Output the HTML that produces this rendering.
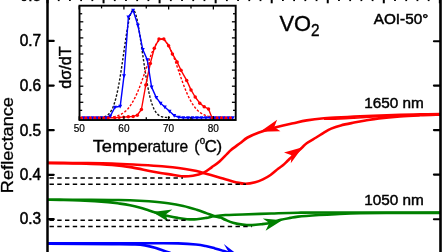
<!DOCTYPE html>
<html><head><meta charset="utf-8"><title>VO2 reflectance</title>
<style>html,body{margin:0;padding:0;background:#fff;overflow:hidden}svg{display:block}</style></head>
<body><svg width="448" height="252" viewBox="0 0 448 252">
<rect width="448" height="252" fill="#fff"/>
<line x1="47.5" y1="-4.1" x2="440.5" y2="-4.1" stroke="#000" stroke-width="2"/>
<line x1="48.0" y1="40.9" x2="53.7" y2="40.9" stroke="#000" stroke-width="2.2" stroke-linecap="round"/>
<line x1="440.0" y1="41.3" x2="433.9" y2="41.3" stroke="#000" stroke-width="2.1" stroke-linecap="round"/>
<line x1="48.0" y1="85.6" x2="53.7" y2="85.6" stroke="#000" stroke-width="2.2" stroke-linecap="round"/>
<line x1="440.0" y1="85.6" x2="433.9" y2="85.6" stroke="#000" stroke-width="2.1" stroke-linecap="round"/>
<line x1="48.0" y1="130.2" x2="53.7" y2="130.2" stroke="#000" stroke-width="2.2" stroke-linecap="round"/>
<line x1="440.0" y1="130.1" x2="433.9" y2="130.1" stroke="#000" stroke-width="2.1" stroke-linecap="round"/>
<line x1="48.0" y1="174.8" x2="53.7" y2="174.8" stroke="#000" stroke-width="2.2" stroke-linecap="round"/>
<line x1="440.0" y1="174.6" x2="433.9" y2="174.6" stroke="#000" stroke-width="2.1" stroke-linecap="round"/>
<line x1="48.0" y1="219.2" x2="53.7" y2="219.2" stroke="#000" stroke-width="2.2" stroke-linecap="round"/>
<line x1="440.0" y1="219.2" x2="433.9" y2="219.2" stroke="#000" stroke-width="2.1" stroke-linecap="round"/>
<line x1="47.50" y1="-4.1" x2="47.50" y2="3.3" stroke="#000" stroke-width="2"/>
<line x1="58.71" y1="-4.1" x2="58.71" y2="1.1" stroke="#000" stroke-width="1.8"/>
<line x1="69.92" y1="-4.1" x2="69.92" y2="1.1" stroke="#000" stroke-width="1.8"/>
<line x1="81.13" y1="-4.1" x2="81.13" y2="1.1" stroke="#000" stroke-width="1.8"/>
<line x1="92.34" y1="-4.1" x2="92.34" y2="1.1" stroke="#000" stroke-width="1.8"/>
<line x1="103.55" y1="-4.1" x2="103.55" y2="3.3" stroke="#000" stroke-width="2"/>
<line x1="114.76" y1="-4.1" x2="114.76" y2="1.1" stroke="#000" stroke-width="1.8"/>
<line x1="125.97" y1="-4.1" x2="125.97" y2="1.1" stroke="#000" stroke-width="1.8"/>
<line x1="137.18" y1="-4.1" x2="137.18" y2="1.1" stroke="#000" stroke-width="1.8"/>
<line x1="148.39" y1="-4.1" x2="148.39" y2="1.1" stroke="#000" stroke-width="1.8"/>
<line x1="159.60" y1="-4.1" x2="159.60" y2="3.3" stroke="#000" stroke-width="2"/>
<line x1="170.81" y1="-4.1" x2="170.81" y2="1.1" stroke="#000" stroke-width="1.8"/>
<line x1="182.02" y1="-4.1" x2="182.02" y2="1.1" stroke="#000" stroke-width="1.8"/>
<line x1="193.23" y1="-4.1" x2="193.23" y2="1.1" stroke="#000" stroke-width="1.8"/>
<line x1="204.44" y1="-4.1" x2="204.44" y2="1.1" stroke="#000" stroke-width="1.8"/>
<line x1="215.65" y1="-4.1" x2="215.65" y2="3.3" stroke="#000" stroke-width="2"/>
<line x1="226.86" y1="-4.1" x2="226.86" y2="1.1" stroke="#000" stroke-width="1.8"/>
<line x1="238.07" y1="-4.1" x2="238.07" y2="1.1" stroke="#000" stroke-width="1.8"/>
<line x1="249.28" y1="-4.1" x2="249.28" y2="1.1" stroke="#000" stroke-width="1.8"/>
<line x1="260.49" y1="-4.1" x2="260.49" y2="1.1" stroke="#000" stroke-width="1.8"/>
<line x1="271.70" y1="-4.1" x2="271.70" y2="3.3" stroke="#000" stroke-width="2"/>
<line x1="282.91" y1="-4.1" x2="282.91" y2="1.1" stroke="#000" stroke-width="1.8"/>
<line x1="294.12" y1="-4.1" x2="294.12" y2="1.1" stroke="#000" stroke-width="1.8"/>
<line x1="305.33" y1="-4.1" x2="305.33" y2="1.1" stroke="#000" stroke-width="1.8"/>
<line x1="316.54" y1="-4.1" x2="316.54" y2="1.1" stroke="#000" stroke-width="1.8"/>
<line x1="327.75" y1="-4.1" x2="327.75" y2="3.3" stroke="#000" stroke-width="2"/>
<line x1="338.96" y1="-4.1" x2="338.96" y2="1.1" stroke="#000" stroke-width="1.8"/>
<line x1="350.17" y1="-4.1" x2="350.17" y2="1.1" stroke="#000" stroke-width="1.8"/>
<line x1="361.38" y1="-4.1" x2="361.38" y2="1.1" stroke="#000" stroke-width="1.8"/>
<line x1="372.59" y1="-4.1" x2="372.59" y2="1.1" stroke="#000" stroke-width="1.8"/>
<line x1="383.80" y1="-4.1" x2="383.80" y2="3.3" stroke="#000" stroke-width="2"/>
<line x1="395.01" y1="-4.1" x2="395.01" y2="1.1" stroke="#000" stroke-width="1.8"/>
<line x1="406.22" y1="-4.1" x2="406.22" y2="1.1" stroke="#000" stroke-width="1.8"/>
<line x1="417.43" y1="-4.1" x2="417.43" y2="1.1" stroke="#000" stroke-width="1.8"/>
<line x1="428.64" y1="-4.1" x2="428.64" y2="1.1" stroke="#000" stroke-width="1.8"/>
<line x1="439.85" y1="-4.1" x2="439.85" y2="3.3" stroke="#000" stroke-width="2"/>
<text transform="translate(41.2,1.2) scale(0.985,1)" font-family="Liberation Sans, Arial, Helvetica, sans-serif" font-size="15.7" text-anchor="end" fill="#000" stroke="#000" stroke-width="0.5" >0.8</text>
<text transform="translate(41.2,45.8) scale(0.985,1)" font-family="Liberation Sans, Arial, Helvetica, sans-serif" font-size="15.7" text-anchor="end" fill="#000" stroke="#000" stroke-width="0.5" >0.7</text>
<text transform="translate(41.2,90.6) scale(0.985,1)" font-family="Liberation Sans, Arial, Helvetica, sans-serif" font-size="15.7" text-anchor="end" fill="#000" stroke="#000" stroke-width="0.5" >0.6</text>
<text transform="translate(41.2,135.7) scale(0.985,1)" font-family="Liberation Sans, Arial, Helvetica, sans-serif" font-size="15.7" text-anchor="end" fill="#000" stroke="#000" stroke-width="0.5" >0.5</text>
<text transform="translate(41.2,179.6) scale(0.985,1)" font-family="Liberation Sans, Arial, Helvetica, sans-serif" font-size="15.7" text-anchor="end" fill="#000" stroke="#000" stroke-width="0.5" >0.4</text>
<text transform="translate(41.2,224.2) scale(0.985,1)" font-family="Liberation Sans, Arial, Helvetica, sans-serif" font-size="15.7" text-anchor="end" fill="#000" stroke="#000" stroke-width="0.5" >0.3</text>
<text transform="translate(13.3,145.1) rotate(-90)" font-family="Liberation Sans, Arial, Helvetica, sans-serif" font-size="16.2" text-anchor="middle" fill="#000" stroke="#000" stroke-width="0.3" textLength="96.2" lengthAdjust="spacingAndGlyphs">Reflectance</text>
<path d="M48.00,162.90 C53.33,162.93 69.33,163.00 80.00,163.10 C90.67,163.20 102.50,163.23 112.00,163.50 C121.50,163.77 128.67,164.23 137.00,164.70 C145.33,165.17 153.97,165.58 162.00,166.30 C170.03,167.02 179.42,168.22 185.20,169.00 C190.98,169.78 193.68,170.35 196.70,171.00 C199.72,171.65 199.82,171.92 203.30,172.90 C206.78,173.88 213.63,175.75 217.60,176.90 C221.57,178.05 223.92,178.87 227.10,179.80 C230.28,180.73 233.60,181.83 236.70,182.50 C239.80,183.17 242.62,183.83 245.70,183.80 C248.78,183.77 252.33,183.03 255.20,182.30 C258.07,181.57 260.35,180.62 262.90,179.40 C265.45,178.18 267.97,176.77 270.50,175.00 C273.03,173.23 276.03,170.42 278.10,168.80 C280.17,167.18 281.32,166.63 282.90,165.30 C284.48,163.97 285.92,162.42 287.60,160.80 C289.28,159.18 290.62,157.77 293.00,155.60 C295.38,153.43 299.62,149.87 301.90,147.80 C304.18,145.73 304.32,144.92 306.70,143.20 C309.08,141.48 313.38,139.23 316.20,137.50 C319.02,135.77 321.10,134.28 323.60,132.80 C326.10,131.32 328.33,129.83 331.20,128.60 C334.07,127.37 336.98,126.40 340.80,125.40 C344.62,124.40 349.98,123.42 354.10,122.60 C358.22,121.78 361.37,121.20 365.50,120.50 C369.63,119.80 373.15,119.08 378.90,118.40 C384.65,117.72 393.15,116.92 400.00,116.40 C406.85,115.88 413.28,115.60 420.00,115.30 C426.72,115.00 436.92,114.72 440.30,114.60" fill="none" stroke="#ff0000" stroke-width="2.6" stroke-linejoin="round"/>
<path d="M440.30,114.00 C436.92,114.07 426.72,114.25 420.00,114.40 C413.28,114.55 407.82,114.67 400.00,114.90 C392.18,115.13 380.75,115.52 373.10,115.80 C365.45,116.08 360.45,116.30 354.10,116.60 C347.75,116.90 340.02,117.33 335.00,117.60 C329.98,117.87 328.72,117.73 324.00,118.20 C319.28,118.67 311.82,119.57 306.70,120.40 C301.58,121.23 298.08,122.15 293.30,123.20 C288.52,124.25 283.72,125.17 278.00,126.70 C272.28,128.23 264.07,130.60 259.00,132.40 C253.93,134.20 250.77,135.70 247.60,137.50 C244.43,139.30 242.77,141.12 240.00,143.20 C237.23,145.28 233.15,148.23 231.00,150.00 C228.85,151.77 229.02,151.90 227.10,153.80 C225.18,155.70 222.03,159.18 219.50,161.40 C216.97,163.62 214.60,165.18 211.90,167.10 C209.20,169.02 206.47,171.47 203.30,172.90 C200.13,174.33 196.55,175.13 192.90,175.70 C189.25,176.27 185.22,176.52 181.40,176.30 C177.58,176.08 173.23,174.90 170.00,174.40 C166.77,173.90 165.42,173.87 162.00,173.30 C158.58,172.73 154.50,171.98 149.50,171.00 C144.50,170.02 138.25,168.40 132.00,167.40 C125.75,166.40 120.67,165.65 112.00,165.00 C103.33,164.35 88.67,163.82 80.00,163.50 C71.33,163.18 65.33,163.18 60.00,163.10 C54.67,163.02 50.00,163.02 48.00,163.00" fill="none" stroke="#ff0000" stroke-width="2.6" stroke-linejoin="round"/>
<path d="M395.00,115.60 C391.33,115.83 379.83,116.57 373.00,117.00 C366.17,117.43 359.50,117.88 354.00,118.20 C348.50,118.52 345.00,118.73 340.00,118.90 C335.00,119.07 326.67,119.15 324.00,119.20" fill="none" stroke="#ff0000" stroke-width="1.6" stroke-linejoin="round"/>
<path d="M260.00,131.80 L277.10,119.80 L274.30,127.00 L280.40,131.20Z" fill="#ff0000"/>
<path d="M302.60,147.20 L284.00,152.60 L291.60,155.20 L290.80,163.20Z" fill="#ff0000"/>
<path d="M48.00,199.70 C53.33,199.72 69.33,199.75 80.00,199.80 C90.67,199.85 103.67,199.93 112.00,200.00 C120.33,200.07 123.83,199.98 130.00,200.20 C136.17,200.42 142.65,200.80 149.00,201.30 C155.35,201.80 162.38,202.43 168.10,203.20 C173.82,203.97 178.53,204.82 183.30,205.90 C188.07,206.98 192.88,208.50 196.70,209.70 C200.52,210.90 203.32,212.05 206.20,213.10 C209.08,214.15 211.58,215.25 214.00,216.00 C216.42,216.75 218.80,216.97 220.70,217.60 C222.60,218.23 223.35,218.95 225.40,219.80 C227.45,220.65 230.13,221.90 233.00,222.70 C235.87,223.50 239.42,224.20 242.60,224.60 C245.78,225.00 248.93,225.17 252.10,225.10 C255.27,225.03 258.43,224.60 261.60,224.20 C264.77,223.80 267.92,223.43 271.10,222.70 C274.28,221.97 277.52,220.60 280.70,219.80 C283.88,219.00 287.32,218.43 290.20,217.90 C293.08,217.37 293.20,217.08 298.00,216.60 C302.80,216.12 312.67,215.42 319.00,215.00 C325.33,214.58 329.17,214.38 336.00,214.10 C342.83,213.82 349.33,213.48 360.00,213.30 C370.67,213.12 386.62,213.07 400.00,213.00 C413.38,212.93 433.58,212.92 440.30,212.90" fill="none" stroke="#008000" stroke-width="2.6" stroke-linejoin="round"/>
<path d="M440.30,212.50 C433.58,212.50 417.38,212.50 400.00,212.50 C382.62,212.50 353.00,212.47 336.00,212.50 C319.00,212.53 308.82,212.53 298.00,212.70 C287.18,212.87 280.33,213.20 271.10,213.50 C261.87,213.80 250.22,214.25 242.60,214.50 C234.98,214.75 230.17,214.70 225.40,215.00 C220.63,215.30 217.20,215.82 214.00,216.30 C210.80,216.78 209.08,217.42 206.20,217.90 C203.32,218.38 199.88,218.98 196.70,219.20 C193.52,219.42 190.28,219.42 187.10,219.20 C183.92,218.98 180.77,218.43 177.60,217.90 C174.43,217.37 171.27,216.73 168.10,216.00 C164.93,215.27 161.78,214.42 158.60,213.50 C155.42,212.58 152.18,211.48 149.00,210.50 C145.82,209.52 142.67,208.47 139.50,207.60 C136.33,206.73 133.25,205.97 130.00,205.30 C126.75,204.63 123.67,204.13 120.00,203.60 C116.33,203.07 114.67,202.63 108.00,202.10 C101.33,201.57 88.00,200.77 80.00,200.40 C72.00,200.03 65.33,200.00 60.00,199.90 C54.67,199.80 50.00,199.82 48.00,199.80" fill="none" stroke="#008000" stroke-width="2.6" stroke-linejoin="round"/>
<path d="M152.30,212.00 L172.40,209.40 L165.40,214.70 L168.50,221.80Z" fill="#008000"/>
<path d="M282.20,220.30 L262.80,218.60 L269.30,223.00 L265.60,230.80Z" fill="#008000"/>
<path d="M48.00,243.30 C58.67,243.30 96.67,243.30 112.00,243.30 C127.33,243.30 132.00,243.32 140.00,243.30 C148.00,243.28 153.67,243.18 160.00,243.20 C166.33,243.22 172.00,243.18 178.00,243.40 C184.00,243.62 191.38,244.07 196.00,244.50 C200.62,244.93 202.53,245.35 205.70,246.00 C208.87,246.65 211.95,247.57 215.00,248.40 C218.05,249.23 221.67,250.23 224.00,251.00 C226.33,251.77 227.67,252.42 229.00,253.00 C230.33,253.58 231.50,254.25 232.00,254.50" fill="none" stroke="#0000ff" stroke-width="2.6"/>
<path d="M48.00,243.80 C58.67,243.87 97.50,244.08 112.00,244.20 C126.50,244.32 129.50,244.30 135.00,244.50 C140.50,244.70 141.67,244.85 145.00,245.40 C148.33,245.95 151.25,246.70 155.00,247.80 C158.75,248.90 164.50,250.97 167.50,252.00 C170.50,253.03 172.08,253.67 173.00,254.00" fill="none" stroke="#0000ff" stroke-width="2.6"/>
<path d="M223.80,244.10 L236.80,254.00 L222.00,258.00 L228.00,251.00Z" fill="#0000ff"/>
<text transform="translate(394.0,107.8) scale(1.01,1)" font-family="Liberation Sans, Arial, Helvetica, sans-serif" font-size="15.2" text-anchor="middle" fill="#000" stroke="#000" stroke-width="0.45" >1650 nm</text>
<text transform="translate(394.0,204.5) scale(1.01,1)" font-family="Liberation Sans, Arial, Helvetica, sans-serif" font-size="15.2" text-anchor="middle" fill="#000" stroke="#000" stroke-width="0.45" >1050 nm</text>
<text transform="translate(401,24.15)" font-family="Liberation Sans, Arial, Helvetica, sans-serif" font-size="15.3" text-anchor="middle" fill="#000" stroke="#000" stroke-width="0.5" >AOI-50°</text>
<text transform="translate(279.5,31.3) scale(0.985,1)" font-family="Liberation Sans, Arial, Helvetica, sans-serif" font-size="22.2" text-anchor="start" fill="#000" stroke="#000" stroke-width="0.35" >VO<tspan font-size="15.6" dy="4.5">2</tspan></text>
<rect x="79.5" y="5.7" width="156.2" height="114.3" fill="#fff" stroke="none"/>
<path d="M100.00,117.41 L101.00,117.32 L102.00,117.20 L103.00,117.03 L104.00,116.80 L105.00,116.48 L106.00,116.06 L107.00,115.51 L108.00,114.78 L109.00,113.86 L110.00,112.68 L111.00,111.21 L112.00,109.40 L113.00,107.20 L114.00,104.55 L115.00,101.42 L116.00,97.77 L117.00,93.58 L118.00,88.83 L119.00,83.54 L120.00,77.74 L121.00,71.49 L122.00,64.87 L123.00,57.99 L124.00,51.00 L125.00,44.03 L126.00,37.28 L127.00,30.91 L128.00,25.11 L129.00,20.06 L130.00,15.91 L131.00,12.81 L132.00,10.85 L133.00,10.11 L134.00,10.60 L135.00,12.32 L136.00,15.20 L137.00,19.15 L138.00,24.03 L139.00,29.70 L140.00,35.97 L141.00,42.66 L142.00,49.60 L143.00,56.60 L144.00,63.51 L145.00,70.19 L146.00,76.52 L147.00,82.42 L148.00,87.81 L149.00,92.67 L150.00,96.98 L151.00,100.74 L152.00,103.97 L153.00,106.71 L154.00,109.00 L155.00,110.88 L156.00,112.41 L157.00,113.64 L158.00,114.62 L159.00,115.38 L160.00,115.96 L161.00,116.41 L162.00,116.74 L163.00,116.99 L164.00,117.17 L165.00,117.30 L166.00,117.39 L167.00,117.46 L168.00,117.51 L169.00,117.54 L170.00,117.56" fill="none" stroke="#111" stroke-width="1.4" stroke-dasharray="2.4 1.7"/>
<path d="M105.00,117.43 L106.00,117.39 L107.00,117.34 L108.00,117.28 L109.00,117.20 L110.00,117.12 L111.00,117.01 L112.00,116.89 L113.00,116.74 L114.00,116.57 L115.00,116.37 L116.00,116.14 L117.00,115.86 L118.00,115.55 L119.00,115.18 L120.00,114.76 L121.00,114.28 L122.00,113.73 L123.00,113.11 L124.00,112.42 L125.00,111.63 L126.00,110.75 L127.00,109.77 L128.00,108.69 L129.00,107.49 L130.00,106.17 L131.00,104.73 L132.00,103.17 L133.00,101.47 L134.00,99.65 L135.00,97.69 L136.00,95.60 L137.00,93.39 L138.00,91.05 L139.00,88.59 L140.00,86.03 L141.00,83.37 L142.00,80.62 L143.00,77.81 L144.00,74.94 L145.00,72.03 L146.00,69.11 L147.00,66.20 L148.00,63.32 L149.00,60.49 L150.00,57.73 L151.00,55.09 L152.00,52.57 L153.00,50.20 L154.00,48.01 L155.00,46.01 L156.00,44.24 L157.00,42.71 L158.00,41.43 L159.00,40.42 L160.00,39.69 L161.00,39.25 L162.00,39.10 L163.00,39.25 L164.00,39.69 L165.00,40.42 L166.00,41.43 L167.00,42.71 L168.00,44.24 L169.00,46.01 L170.00,48.01 L171.00,50.20 L172.00,52.57 L173.00,55.09 L174.00,57.73 L175.00,60.49 L176.00,63.32 L177.00,66.20 L178.00,69.11 L179.00,72.03 L180.00,74.94 L181.00,77.81 L182.00,80.62 L183.00,83.37 L184.00,86.03 L185.00,88.59 L186.00,91.05 L187.00,93.39 L188.00,95.60 L189.00,97.69 L190.00,99.65 L191.00,101.47 L192.00,103.17 L193.00,104.73 L194.00,106.17 L195.00,107.49 L196.00,108.69 L197.00,109.77 L198.00,110.75 L199.00,111.63 L200.00,112.42 L201.00,113.11 L202.00,113.73 L203.00,114.28 L204.00,114.76 L205.00,115.18 L206.00,115.55 L207.00,115.86 L208.00,116.14 L209.00,116.37 L210.00,116.57 L211.00,116.74 L212.00,116.89 L213.00,117.01 L214.00,117.12 L215.00,117.20 L216.00,117.28 L217.00,117.34 L218.00,117.39 L219.00,117.43 L220.00,117.46 L221.00,117.49 L222.00,117.51 L223.00,117.53 L224.00,117.54 L225.00,117.56" fill="none" stroke="#ff0000" stroke-width="1.4" stroke-dasharray="2.4 1.7"/>
<path d="M81.40,117.80 L85.87,117.80 L90.34,117.80 L94.81,117.80 L99.28,117.80 L103.75,117.80 L108.22,117.80 L114.80,117.70 L119.20,117.40 L123.60,117.10 L128.30,116.80 L133.10,116.40 L137.30,115.20 L141.40,109.50 L145.80,85.00 L150.30,63.40 L154.30,48.20 L159.00,39.00 L163.80,39.00 L168.60,45.70 L172.40,53.90 L177.10,61.90 L181.00,70.30 L186.70,80.40 L191.00,89.90 L195.20,97.00 L199.80,103.20 L204.20,106.80 L208.50,108.90 L212.00,117.80 L217.00,117.70 L221.47,117.70 L225.94,117.70 L230.41,117.70" fill="none" stroke="#ff0000" stroke-width="1.4" stroke-linejoin="round"/>
<path d="M83.67,117.70 L88.14,117.70 L92.61,117.70 L97.08,117.70 L101.55,117.70 L106.02,117.70 L110.30,116.00 L115.00,107.20 L120.20,106.30 L124.00,75.80 L128.40,17.00 L133.10,10.30 L137.90,25.30 L142.80,49.60 L147.30,59.80 L151.60,87.10 L156.30,97.60 L160.60,103.20 L164.80,107.00 L169.50,111.30 L174.20,115.60 L178.80,117.30 L183.30,117.70 L188.00,117.70 L192.47,117.70 L196.94,117.70 L201.41,117.70 L205.88,117.70 L210.35,117.70 L214.82,117.70 L219.29,117.70 L223.76,117.70 L228.23,117.70 L232.70,117.70" fill="none" stroke="#0000ff" stroke-width="1.4" stroke-linejoin="round"/>
<path d="M81.67,116.20 L85.67,116.20 L83.67,119.90Z" fill="#0000ff"/>
<path d="M86.14,116.20 L90.14,116.20 L88.14,119.90Z" fill="#0000ff"/>
<path d="M90.61,116.20 L94.61,116.20 L92.61,119.90Z" fill="#0000ff"/>
<path d="M95.08,116.20 L99.08,116.20 L97.08,119.90Z" fill="#0000ff"/>
<path d="M99.55,116.20 L103.55,116.20 L101.55,119.90Z" fill="#0000ff"/>
<path d="M104.02,116.20 L108.02,116.20 L106.02,119.90Z" fill="#0000ff"/>
<path d="M108.30,114.50 L112.30,114.50 L110.30,118.20Z" fill="#0000ff"/>
<path d="M113.00,105.70 L117.00,105.70 L115.00,109.40Z" fill="#0000ff"/>
<path d="M118.20,104.80 L122.20,104.80 L120.20,108.50Z" fill="#0000ff"/>
<path d="M122.00,74.30 L126.00,74.30 L124.00,78.00Z" fill="#0000ff"/>
<path d="M126.40,15.50 L130.40,15.50 L128.40,19.20Z" fill="#0000ff"/>
<path d="M131.10,8.80 L135.10,8.80 L133.10,12.50Z" fill="#0000ff"/>
<path d="M135.90,23.80 L139.90,23.80 L137.90,27.50Z" fill="#0000ff"/>
<path d="M140.80,48.10 L144.80,48.10 L142.80,51.80Z" fill="#0000ff"/>
<path d="M145.30,58.30 L149.30,58.30 L147.30,62.00Z" fill="#0000ff"/>
<path d="M149.60,85.60 L153.60,85.60 L151.60,89.30Z" fill="#0000ff"/>
<path d="M154.30,96.10 L158.30,96.10 L156.30,99.80Z" fill="#0000ff"/>
<path d="M158.60,101.70 L162.60,101.70 L160.60,105.40Z" fill="#0000ff"/>
<path d="M162.80,105.50 L166.80,105.50 L164.80,109.20Z" fill="#0000ff"/>
<path d="M167.50,109.80 L171.50,109.80 L169.50,113.50Z" fill="#0000ff"/>
<path d="M172.20,114.10 L176.20,114.10 L174.20,117.80Z" fill="#0000ff"/>
<path d="M176.80,115.80 L180.80,115.80 L178.80,119.50Z" fill="#0000ff"/>
<path d="M181.30,116.20 L185.30,116.20 L183.30,119.90Z" fill="#0000ff"/>
<path d="M186.00,116.20 L190.00,116.20 L188.00,119.90Z" fill="#0000ff"/>
<path d="M190.47,116.20 L194.47,116.20 L192.47,119.90Z" fill="#0000ff"/>
<path d="M194.94,116.20 L198.94,116.20 L196.94,119.90Z" fill="#0000ff"/>
<path d="M199.41,116.20 L203.41,116.20 L201.41,119.90Z" fill="#0000ff"/>
<path d="M203.88,116.20 L207.88,116.20 L205.88,119.90Z" fill="#0000ff"/>
<path d="M208.35,116.20 L212.35,116.20 L210.35,119.90Z" fill="#0000ff"/>
<path d="M212.82,116.20 L216.82,116.20 L214.82,119.90Z" fill="#0000ff"/>
<path d="M217.29,116.20 L221.29,116.20 L219.29,119.90Z" fill="#0000ff"/>
<path d="M221.76,116.20 L225.76,116.20 L223.76,119.90Z" fill="#0000ff"/>
<path d="M226.23,116.20 L230.23,116.20 L228.23,119.90Z" fill="#0000ff"/>
<path d="M230.70,116.20 L234.70,116.20 L232.70,119.90Z" fill="#0000ff"/>
<circle cx="81.40" cy="117.80" r="1.5" fill="#ff0000"/>
<circle cx="85.87" cy="117.80" r="1.5" fill="#ff0000"/>
<circle cx="90.34" cy="117.80" r="1.5" fill="#ff0000"/>
<circle cx="94.81" cy="117.80" r="1.5" fill="#ff0000"/>
<circle cx="99.28" cy="117.80" r="1.5" fill="#ff0000"/>
<circle cx="103.75" cy="117.80" r="1.5" fill="#ff0000"/>
<circle cx="108.22" cy="117.80" r="1.5" fill="#ff0000"/>
<circle cx="114.80" cy="117.70" r="1.5" fill="#ff0000"/>
<circle cx="119.20" cy="117.40" r="1.5" fill="#ff0000"/>
<circle cx="123.60" cy="117.10" r="1.5" fill="#ff0000"/>
<circle cx="128.30" cy="116.80" r="1.75" fill="#ff0000"/>
<circle cx="133.10" cy="116.40" r="1.75" fill="#ff0000"/>
<circle cx="137.30" cy="115.20" r="1.75" fill="#ff0000"/>
<circle cx="141.40" cy="109.50" r="1.75" fill="#ff0000"/>
<circle cx="145.80" cy="85.00" r="1.75" fill="#ff0000"/>
<circle cx="150.30" cy="63.40" r="1.75" fill="#ff0000"/>
<circle cx="154.30" cy="48.20" r="1.75" fill="#ff0000"/>
<circle cx="159.00" cy="39.00" r="1.75" fill="#ff0000"/>
<circle cx="163.80" cy="39.00" r="1.75" fill="#ff0000"/>
<circle cx="168.60" cy="45.70" r="1.75" fill="#ff0000"/>
<circle cx="172.40" cy="53.90" r="1.75" fill="#ff0000"/>
<circle cx="177.10" cy="61.90" r="1.75" fill="#ff0000"/>
<circle cx="181.00" cy="70.30" r="1.75" fill="#ff0000"/>
<circle cx="186.70" cy="80.40" r="1.75" fill="#ff0000"/>
<circle cx="191.00" cy="89.90" r="1.75" fill="#ff0000"/>
<circle cx="195.20" cy="97.00" r="1.75" fill="#ff0000"/>
<circle cx="199.80" cy="103.20" r="1.75" fill="#ff0000"/>
<circle cx="204.20" cy="106.80" r="1.75" fill="#ff0000"/>
<circle cx="208.50" cy="108.90" r="1.75" fill="#ff0000"/>
<circle cx="212.00" cy="117.80" r="1.5" fill="#ff0000"/>
<circle cx="217.00" cy="117.70" r="1.5" fill="#ff0000"/>
<circle cx="221.47" cy="117.70" r="1.5" fill="#ff0000"/>
<circle cx="225.94" cy="117.70" r="1.5" fill="#ff0000"/>
<circle cx="230.41" cy="117.70" r="1.5" fill="#ff0000"/>
<rect x="79.5" y="5.7" width="156.2" height="114.3" fill="none" stroke="#000" stroke-width="1.9"/>
<line x1="79.5" y1="13.75" x2="82.2" y2="13.75" stroke="#000" stroke-width="1.3"/>
<line x1="235.7" y1="13.75" x2="233.0" y2="13.75" stroke="#000" stroke-width="1.3"/>
<line x1="79.5" y1="21.80" x2="83.3" y2="21.80" stroke="#000" stroke-width="1.3"/>
<line x1="235.7" y1="21.80" x2="231.89999999999998" y2="21.80" stroke="#000" stroke-width="1.3"/>
<line x1="79.5" y1="29.85" x2="82.2" y2="29.85" stroke="#000" stroke-width="1.3"/>
<line x1="235.7" y1="29.85" x2="233.0" y2="29.85" stroke="#000" stroke-width="1.3"/>
<line x1="79.5" y1="37.90" x2="83.3" y2="37.90" stroke="#000" stroke-width="1.3"/>
<line x1="235.7" y1="37.90" x2="231.89999999999998" y2="37.90" stroke="#000" stroke-width="1.3"/>
<line x1="79.5" y1="45.95" x2="82.2" y2="45.95" stroke="#000" stroke-width="1.3"/>
<line x1="235.7" y1="45.95" x2="233.0" y2="45.95" stroke="#000" stroke-width="1.3"/>
<line x1="79.5" y1="54.00" x2="83.3" y2="54.00" stroke="#000" stroke-width="1.3"/>
<line x1="235.7" y1="54.00" x2="231.89999999999998" y2="54.00" stroke="#000" stroke-width="1.3"/>
<line x1="79.5" y1="62.05" x2="82.2" y2="62.05" stroke="#000" stroke-width="1.3"/>
<line x1="235.7" y1="62.05" x2="233.0" y2="62.05" stroke="#000" stroke-width="1.3"/>
<line x1="79.5" y1="70.10" x2="83.3" y2="70.10" stroke="#000" stroke-width="1.3"/>
<line x1="235.7" y1="70.10" x2="231.89999999999998" y2="70.10" stroke="#000" stroke-width="1.3"/>
<line x1="79.5" y1="78.15" x2="82.2" y2="78.15" stroke="#000" stroke-width="1.3"/>
<line x1="235.7" y1="78.15" x2="233.0" y2="78.15" stroke="#000" stroke-width="1.3"/>
<line x1="79.5" y1="86.20" x2="83.3" y2="86.20" stroke="#000" stroke-width="1.3"/>
<line x1="235.7" y1="86.20" x2="231.89999999999998" y2="86.20" stroke="#000" stroke-width="1.3"/>
<line x1="79.5" y1="94.25" x2="82.2" y2="94.25" stroke="#000" stroke-width="1.3"/>
<line x1="235.7" y1="94.25" x2="233.0" y2="94.25" stroke="#000" stroke-width="1.3"/>
<line x1="79.5" y1="102.30" x2="83.3" y2="102.30" stroke="#000" stroke-width="1.3"/>
<line x1="235.7" y1="102.30" x2="231.89999999999998" y2="102.30" stroke="#000" stroke-width="1.3"/>
<line x1="79.5" y1="110.35" x2="82.2" y2="110.35" stroke="#000" stroke-width="1.3"/>
<line x1="235.7" y1="110.35" x2="233.0" y2="110.35" stroke="#000" stroke-width="1.3"/>
<line x1="79.20" y1="5.7" x2="79.20" y2="9.5" stroke="#000" stroke-width="1.3"/>
<line x1="79.20" y1="120" x2="79.20" y2="116.2" stroke="#000" stroke-width="1.3"/>
<line x1="101.56" y1="5.7" x2="101.56" y2="8.4" stroke="#000" stroke-width="1.3"/>
<line x1="101.56" y1="120" x2="101.56" y2="117.3" stroke="#000" stroke-width="1.3"/>
<line x1="123.92" y1="5.7" x2="123.92" y2="9.5" stroke="#000" stroke-width="1.3"/>
<line x1="123.92" y1="120" x2="123.92" y2="116.2" stroke="#000" stroke-width="1.3"/>
<line x1="146.28" y1="5.7" x2="146.28" y2="8.4" stroke="#000" stroke-width="1.3"/>
<line x1="146.28" y1="120" x2="146.28" y2="117.3" stroke="#000" stroke-width="1.3"/>
<line x1="168.64" y1="5.7" x2="168.64" y2="9.5" stroke="#000" stroke-width="1.3"/>
<line x1="168.64" y1="120" x2="168.64" y2="116.2" stroke="#000" stroke-width="1.3"/>
<line x1="191.00" y1="5.7" x2="191.00" y2="8.4" stroke="#000" stroke-width="1.3"/>
<line x1="191.00" y1="120" x2="191.00" y2="117.3" stroke="#000" stroke-width="1.3"/>
<line x1="213.36" y1="5.7" x2="213.36" y2="9.5" stroke="#000" stroke-width="1.3"/>
<line x1="213.36" y1="120" x2="213.36" y2="116.2" stroke="#000" stroke-width="1.3"/>
<text x="79.20" y="132" font-family="Liberation Sans, Arial, Helvetica, sans-serif" font-size="10" text-anchor="middle" fill="#000" stroke="#000" stroke-width="0.2">50</text>
<text x="123.92" y="132" font-family="Liberation Sans, Arial, Helvetica, sans-serif" font-size="10" text-anchor="middle" fill="#000" stroke="#000" stroke-width="0.2">60</text>
<text x="168.64" y="132" font-family="Liberation Sans, Arial, Helvetica, sans-serif" font-size="10" text-anchor="middle" fill="#000" stroke="#000" stroke-width="0.2">70</text>
<text x="213.36" y="132" font-family="Liberation Sans, Arial, Helvetica, sans-serif" font-size="10" text-anchor="middle" fill="#000" stroke="#000" stroke-width="0.2">80</text>
<text y="151.5" font-family="Liberation Sans, Arial, Helvetica, sans-serif" font-size="17.4" fill="#000" stroke="#000" stroke-width="0.35"><tspan x="92.7" textLength="55" lengthAdjust="spacingAndGlyphs">Tempe</tspan><tspan x="147.4" textLength="40.8" lengthAdjust="spacingAndGlyphs">rature</tspan> <tspan x="194.3" textLength="5.4" lengthAdjust="spacingAndGlyphs">(</tspan><tspan x="199.7" y="143.5" font-size="10" textLength="5.4" lengthAdjust="spacingAndGlyphs">o</tspan><tspan x="204.5" y="151.5" textLength="12.4" lengthAdjust="spacingAndGlyphs">C</tspan><tspan x="216.4" textLength="5.6" lengthAdjust="spacingAndGlyphs">)</tspan></text>
<text transform="translate(70.5,67.6) rotate(-90)" font-family="Liberation Sans, Arial, Helvetica, sans-serif" font-size="17.2" text-anchor="middle" fill="#000" stroke="#000" stroke-width="0.4" textLength="42.3" lengthAdjust="spacingAndGlyphs">dσ/dT</text>
<line x1="47.5" y1="-6" x2="47.5" y2="253" stroke="#000" stroke-width="2.5"/>
<line x1="440.5" y1="-6" x2="440.5" y2="253" stroke="#000" stroke-width="2.6"/>
<line x1="49.5" y1="178" x2="183" y2="178" stroke="#000" stroke-width="1.6" stroke-dasharray="4.4 3.35"/>
<line x1="49.5" y1="184.2" x2="246" y2="184.2" stroke="#000" stroke-width="1.6" stroke-dasharray="4.4 3.35"/>
<line x1="49.5" y1="220.2" x2="187" y2="220.2" stroke="#000" stroke-width="1.6" stroke-dasharray="4.4 3.35"/>
<line x1="49.5" y1="226.5" x2="251.7" y2="226.5" stroke="#000" stroke-width="1.6" stroke-dasharray="4.4 3.35"/>
</svg></body></html>
